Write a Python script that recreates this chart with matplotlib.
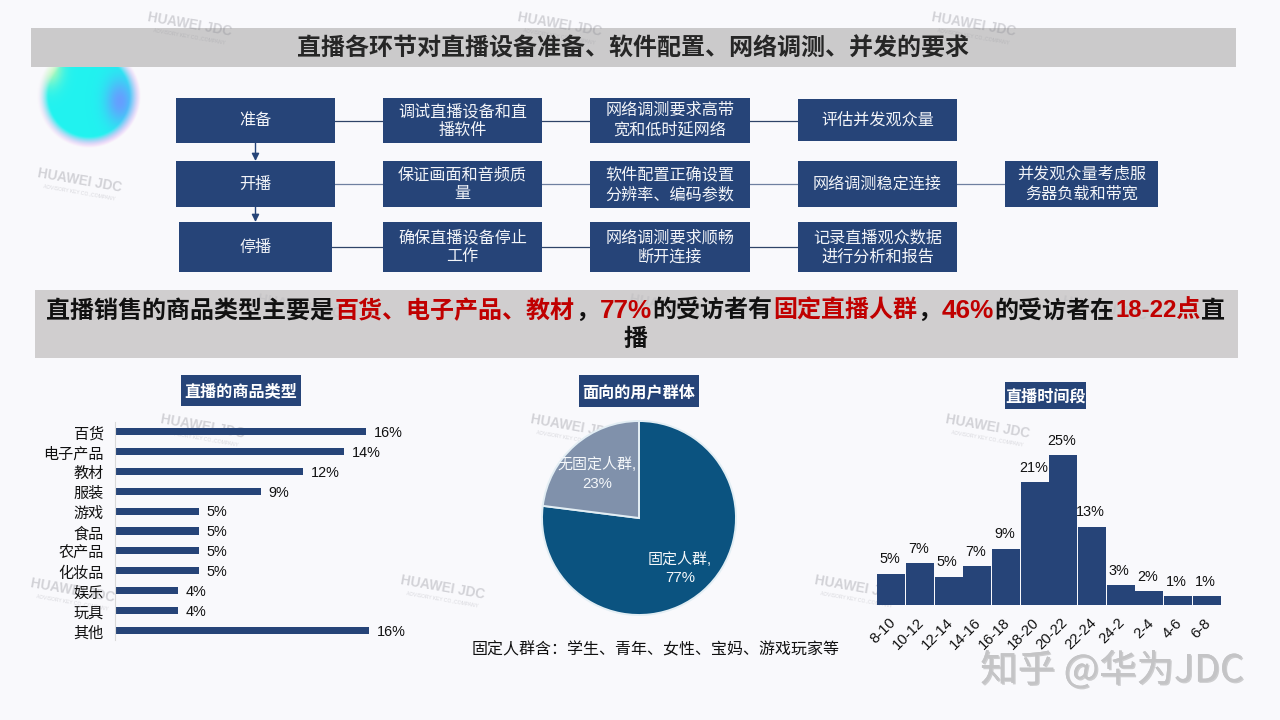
"""直播环节流程 + 商品类型 / 用户群体 / 时间段 三张小图"""
import numpy as np
import matplotlib
matplotlib.use("Agg")
import matplotlib.pyplot as plt
import matplotlib.patheffects as pe
from matplotlib.patches import Rectangle
from matplotlib.transforms import ScaledTranslation

plt.rcParams["font.family"] = ["Liberation Sans", "Noto Sans CJK SC", "DejaVu Sans"]

# ============ 数据 ============
GOODS = ["百货", "电子产品", "教材", "服装", "游戏", "食品", "农产品", "化妆品", "娱乐", "玩具", "其他"]
GOODS_SHARE = [16.0, 14.6, 12.0, 9.3, 5.35, 5.35, 5.35, 5.35, 4.0, 4.0, 16.2]
GOODS_LABELS = ["16%", "14%", "12%", "9%", "5%", "5%", "5%", "5%", "4%", "4%", "16%"]

USER_GROUPS = ["固定人群,\n77%", "无固定人群,\n23%"]
USER_SHARE = [77, 23]

HOURS = ["8-10", "10-12", "12-14", "14-16", "16-18", "18-20", "20-22", "22-24", "24-2", "2-4", "4-6", "6-8"]
HOUR_SHARE = [5.1, 6.9, 4.6, 6.4, 9.3, 20.5, 25.0, 13.0, 3.2, 2.2, 1.4, 1.4]
HOUR_LABELS = ["5%", "7%", "5%", "7%", "9%", "21%", "25%", "13%", "3%", "2%", "1%", "1%"]

FLOW_TEXT = [
    ["准备", "调试直播设备和直\n播软件", "网络调测要求高带\n宽和低时延网络", "评估并发观众量"],
    ["开播", "保证画面和音频质\n量", "软件配置正确设置\n分辨率、编码参数", "网络调测稳定连接", "并发观众量考虑服\n务器负载和带宽"],
    ["停播", "确保直播设备停止\n工作", "网络调测要求顺畅\n断开连接", "记录直播观众数据\n进行分析和报告"],
]

HEADLINE = [
    ("直播销售的商品类型主要是", False), ("百货、电子产品、教材", True), ("，", False),
    ("77%", True), ("的受访者有", False), ("固定直播人群", True), ("，", False),
    ("46%", True), ("的受访者在", False), ("18-22点", True), ("直", False),
]

# ============ 样式 ============
BG = "#F9F9FC"
NAVY = "#264478"
BANNER_TOP = "#CBCACB"
BANNER_MID = "#D0CECF"
RED = "#C00000"
W, H = 1280, 720

FLOW_BOXES = [
    [(176, 98, 335, 143), (383, 98, 542, 143), (590, 98, 750, 143), (798, 99, 957, 141)],
    [(176, 161, 335, 207), (383, 161, 542, 207), (590, 161, 750, 208), (798, 161, 957, 207), (1005, 161, 1158, 207)],
    [(179, 222, 332, 272), (383, 222, 542, 272), (590, 222, 750, 272), (798, 222, 957, 272)],
]
WATERMARKS = [(190, 24), (560, 24), (974, 24), (80, 180), (203, 426), (573, 426), (988, 426),
              (73, 590), (443, 587), (857, 587)]


def px_axes(fig, x0, y0, x1, y1):
    """按像素位置建坐标轴（y 从上往下）"""
    ax = fig.add_axes([x0 / W, 1 - y1 / H, (x1 - x0) / W, (y1 - y0) / H], zorder=2)
    ax.patch.set_alpha(0)
    return ax


def box(ax, x0, y0, x1, y1, color, z=3):
    ax.add_patch(Rectangle((x0, y0), x1 - x0, y1 - y0, facecolor=color, edgecolor="none", zorder=z))


def shift_labels(labels, fig, dx_px, dy_px):
    """刻度文字整体挪几个像素"""
    off = ScaledTranslation(dx_px / 100, dy_px / 100, fig.dpi_scale_trans)
    for lab in labels:
        lab.set_transform(lab.get_transform() + off)


def draw_blob(ax):
    yy, xx = np.mgrid[0:1:200j, 0:1:200j]
    dx, dy = xx - 0.5, yy - 0.5
    r = np.sqrt(dx ** 2 + dy ** 2) / 0.5
    rim = np.clip((r - 0.8) / 0.2, 0, 1)
    img = np.zeros((200, 200, 4))
    img[..., 0] = 0.13 + 0.85 * rim
    img[..., 1] = 0.95 - 0.40 * rim * (xx + yy) * 0.9
    img[..., 2] = 0.94
    # 右下偏蓝，左上偏黄绿
    blue = np.exp(-(((xx - 0.80) / 0.14) ** 2 + ((yy - 0.55) / 0.22) ** 2))
    img[..., 0] = img[..., 0] * (1 - blue) + 0.40 * blue
    img[..., 1] = img[..., 1] * (1 - blue) + 0.62 * blue
    img[..., 2] = img[..., 2] * (1 - blue) + 1.00 * blue
    green = np.exp(-(((xx - 0.12) / 0.12) ** 2 + ((yy - 0.22) / 0.18) ** 2))
    img[..., 0] = img[..., 0] * (1 - green) + 0.75 * green
    img[..., 1] = img[..., 1] * (1 - green) + 0.98 * green
    img[..., 2] = img[..., 2] * (1 - green) + 0.70 * green
    img[..., 3] = np.clip((1.0 - r) / 0.22, 0, 1)
    ax.imshow(img, extent=(37, 141, 148, 44), zorder=1, interpolation="bilinear", aspect="auto")
    ax.set_xlim(0, W)
    ax.set_ylim(H, 0)


def draw_watermarks(ax):
    for x, y in WATERMARKS:
        ax.text(x, y, "HUAWEI JDC", fontsize=9.8, fontweight="bold", color="#8E8E96", alpha=0.36,
                rotation=-10, ha="center", va="center", rotation_mode="anchor", zorder=2.5)
        ax.text(x - 1, y + 12, "ADVISORY KEY CO.,COMPANY", fontsize=3.6, color="#8E8E96", alpha=0.3,
                rotation=-10, ha="center", va="center", rotation_mode="anchor", zorder=2.5)
    for x, y in [(300, 306), (672, 306), (1105, 308)]:
        ax.text(x, y, "HUAWEI JDC", fontsize=9.8, fontweight="bold", color="#8E8E96", alpha=0.14,
                rotation=-10, ha="center", va="center", rotation_mode="anchor", zorder=2.5)


def draw_flow(ax):
    # 横向连线
    row_y = [120.5, 184, 247]
    row_end = [798, 1005, 798]
    row_color = ["#2F4468", "#6F80A0", "#2F4468"]
    for y, xe, c in zip(row_y, row_end, row_color):
        ax.plot([330, xe], [y, y], color=c, lw=0.9, zorder=2.8)
    # 纵向箭头
    for y0, y1 in [(143, 161), (207, 222)]:
        ax.annotate("", xy=(255.5, y1), xytext=(255.5, y0), zorder=2.8,
                    arrowprops=dict(arrowstyle="-|>", color=NAVY, lw=1, shrinkA=0, shrinkB=0, mutation_scale=11))
    for boxes, texts in zip(FLOW_BOXES, FLOW_TEXT):
        for (x0, y0, x1, y1), t in zip(boxes, texts):
            box(ax, x0, y0, x1, y1, NAVY)
            ax.text((x0 + x1) / 2, (y0 + y1) / 2, t, color="#F2F4F8", fontsize=11.6, ha="center",
                    va="center", zorder=4, linespacing=1.3)


def draw_headline(fig, ax):
    """第二条标题红黑混排，逐段量宽度后拼起来"""
    renderer = fig.canvas.get_renderer()
    parts = []
    total = 0
    for seg, is_red in HEADLINE:
        size = 18.8 if seg.endswith("%") else 17.3
        t = ax.text(0, 311, seg, fontsize=size, fontweight="bold", color=RED if is_red else "#111111",
                    va="center", ha="left", zorder=4)
        # 全角逗号量出来只有墨迹宽度，按一个字宽算
        w = 24 if seg == "，" else t.get_window_extent(renderer).width + 0.6
        parts.append((t, w))
        total += w
    x = 636 - total / 2
    for t, w in parts:
        t.set_x(x)
        x += w
    ax.text(636, 340, "播", fontsize=17.3, fontweight="bold", color="#111111", ha="center", va="center", zorder=4)


def draw_goods(fig):
    ax = px_axes(fig, 115, 421.5, 429, 640.5)
    ypos = np.arange(len(GOODS))
    ax.barh(ypos, GOODS_SHARE, height=0.36, color=NAVY)
    ax.set_xlim(0, 20)
    ax.set_ylim(len(GOODS) - 0.5, -0.5)
    ax.set_yticks(ypos, GOODS, fontsize=10.9, color="#111111")
    ax.tick_params(axis="y", length=0, pad=8)
    shift_labels(ax.get_yticklabels(), fig, 0, -1.5)
    ax.set_xticks([])
    for s in ["top", "right", "bottom"]:
        ax.spines[s].set_visible(False)
    ax.spines["left"].set_color("#D9D9D9")
    for y, v, lab in zip(ypos, GOODS_SHARE, GOODS_LABELS):
        ax.annotate(lab, (v, y), xytext=(5.5, -1), textcoords="offset points", va="center", ha="left",
                    fontsize=10.4, color="#111111")


def draw_users(fig):
    ax = px_axes(fig, 539, 418, 739, 618)
    ax.pie(USER_SHARE, colors=["#0B5380", "#8091AB"], startangle=90, counterclock=False, radius=0.97,
           wedgeprops=dict(edgecolor="#E3EEF4", linewidth=1.4))
    ax.set_xlim(-1, 1)
    ax.set_ylim(-1, 1)
    ax.text(0.41, -0.505, USER_GROUPS[0], color="#F4F7FA", fontsize=10.8, ha="center", va="center", linespacing=1.4)
    ax.text(-0.42, 0.44, USER_GROUPS[1], color="#F4F7FA", fontsize=10.8, ha="center", va="center", linespacing=1.4)


def draw_hours(fig):
    ax = px_axes(fig, 877, 430, 1221, 604.5)
    xpos = np.arange(len(HOURS))
    ax.bar(xpos, HOUR_SHARE, width=0.97, color=NAVY)
    ax.set_xlim(-0.5, len(HOURS) - 0.5)
    ax.set_ylim(0, 174.5 / 5.97)
    for s in ax.spines.values():
        s.set_visible(False)
    ax.set_yticks([])
    ax.set_xticks(xpos, HOURS, rotation=45, ha="right", rotation_mode="anchor", fontsize=10.7, color="#111111")
    ax.tick_params(axis="x", length=0, pad=8)
    shift_labels(ax.get_xticklabels(), fig, -3, 0)
    for x, v, lab in zip(xpos, HOUR_SHARE, HOUR_LABELS):
        ax.annotate(lab, (x, v), xytext=(-1, 10.5), textcoords="offset points", ha="center", va="center",
                    fontsize=10.4, color="#111111")


def main():
    fig = plt.figure(figsize=(12.8, 7.2), dpi=100, facecolor=BG)
    ax = fig.add_axes([0, 0, 1, 1], zorder=0)
    ax.set_facecolor(BG)
    draw_blob(ax)
    ax.axis("off")

    # 两条灰色标题栏
    box(ax, 31, 28, 1236, 67, BANNER_TOP, z=2)
    box(ax, 35, 290, 1238, 358, BANNER_MID, z=2)
    draw_watermarks(ax)
    ax.text(633, 49, "直播各环节对直播设备准备、软件配置、网络调测、并发的要求", fontsize=17.3, fontweight="bold",
            color="#262626", ha="center", va="center", zorder=4)
    draw_headline(fig, ax)
    draw_flow(ax)

    # 三个小标题
    for (x0, y0, x1, y1), t in [((181, 375, 301, 406), "直播的商品类型"),
                                ((579, 375, 699, 407), "面向的用户群体"),
                                ((1005, 382, 1086, 409), "直播时间段")]:
        box(ax, x0, y0, x1, y1, NAVY)
        ax.text((x0 + x1) / 2, (y0 + y1) / 2 + 1, t, color="white", fontsize=11.6, fontweight="bold",
                ha="center", va="center", zorder=4)

    ax.text(656, 650, "固定人群含：学生、青年、女性、宝妈、游戏玩家等", fontsize=11.5, color="#111111",
            ha="center", va="center", zorder=4)
    ax.text(1112, 671, "知乎 @华为JDC", fontsize=27, color="#C4C4C6", ha="center", va="center", zorder=4,
            family=["Noto Sans CJK SC", "DejaVu Sans"],
            path_effects=[pe.withSimplePatchShadow(offset=(1, -1), shadow_rgbFace="#8C8C8C", alpha=0.4), pe.Normal()])

    draw_goods(fig)
    draw_users(fig)
    draw_hours(fig)

    fig.savefig("out.png", dpi=100, facecolor=BG)
    plt.close(fig)


if __name__ == "__main__":
    main()
